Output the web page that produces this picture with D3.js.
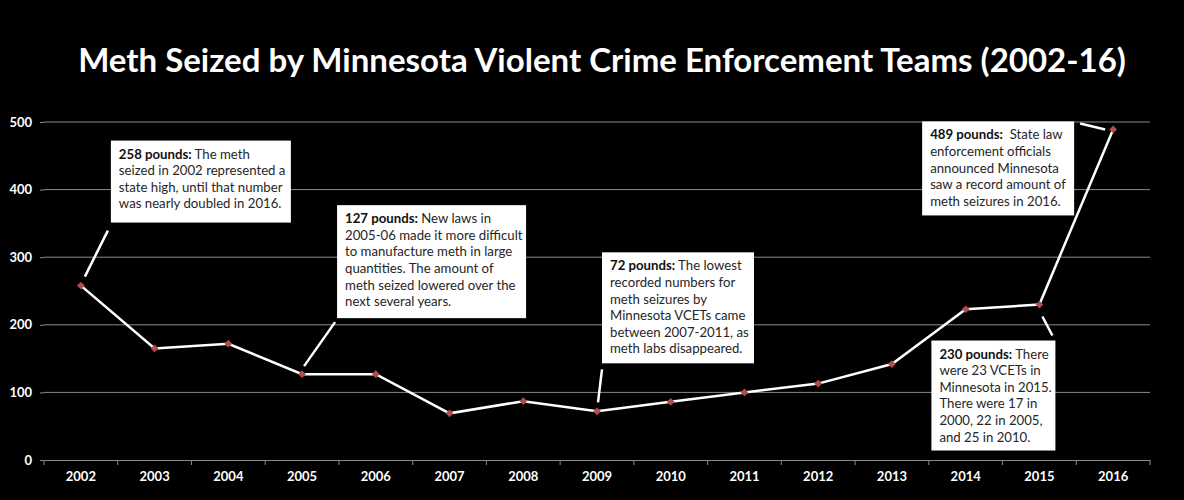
<!DOCTYPE html>
<html>
<head>
<meta charset="utf-8">
<script src="https://cdn.jsdelivr.net/npm/d3@7"></script>
<style>
  body { margin: 0; background: #000; }
  svg { display: block; }
  text { font-family: Lato, "Open Sans", sans-serif; }
</style>
</head>
<body>
<div id="chart"></div>
<script>
/**
 * DATA
 * */
const years = ["2002", "2003", "2004", "2005", "2006", "2007", "2008", "2009",
  "2010", "2011", "2012", "2013", "2014", "2015", "2016"];
const pounds = [258, 165, 172, 127, 127, 69, 87, 72, 86, 100, 113, 142, 223, 230, 489];
const yTicks = [0, 100, 200, 300, 400, 500];

// annotation notes: which year they point at, bold lead and the rest of lines
const noteYears = ["2002", "2005", "2009", "2016", "2015"];
const noteLeads = ["258 pounds:", "127 pounds:", "72 pounds:", "489 pounds:", "230 pounds:"];
const noteLines = [
  [" The meth", "seized in 2002 represented a", "state high, until that number", "was nearly doubled in 2016."],
  [" New laws in", "2005-06 made it more difficult", "to manufacture meth in large", "quantities. The amount of", "meth seized lowered over the", "next several years."],
  [" The lowest", "recorded numbers for", "meth seizures by", "Minnesota VCETs came", "between 2007-2011, as", "meth labs disappeared."],
  ["  State law", "enforcement officials", "announced Minnesota", "saw a record amount of", "meth seizures in 2016."],
  [" There", "were 23 VCETs in", "Minnesota in 2015.", "There were 17 in", "2000, 22 in 2005,", "and 25 in 2010."]
];

/**
 * LAYOUT
 * */
const width = 1184, height = 500;
const margin = { top: 122, bottom: 40, left: 44, right: 34 };

// box placement relative to the point it annotates: dx, dy of box top-left, box w/h,
// leader start (relative to point) and leader end offset
const boxes = [
  { dx: 30, dy: -145, w: 180, h: 82, l1: [27, -55], l2: [4, -9] },
  { dx: 35, dy: -169, w: 189, h: 113, l1: [33, -52], l2: [2, -8] },
  { dx: 5, dy: -159, w: 152, h: 111, l1: [5, -42], l2: [1, -9] },
  { dx: -191, dy: -8, w: 152, h: 94, l1: [-33, -6], l2: [-8, 0] },
  { dx: -108, dy: 36, w: 124, h: 110, l1: [3, 12], l2: [13, 31] }
];

const svg = d3.select("#chart")
  .append("svg")
  .attr("width", width)
  .attr("height", height)
  .style("background", "#000");

const x = d3.scaleBand()
  .domain(years)
  .range([margin.left, width - margin.right])
  .padding(0);

const y = d3.scaleLinear()
  .domain([0, 500])
  .range([height - margin.bottom, margin.top]);

const cx = d => x(d) + x.bandwidth() / 2;

// title
svg.append("text")
  .attr("x", 602)
  .attr("y", 72)
  .attr("text-anchor", "middle")
  .attr("fill", "#fff")
  .attr("font-size", 33)
  .attr("font-weight", "bold")
  .text("Meth Seized by Minnesota Violent Crime Enforcement Teams (2002-16)");

// gridlines
svg.append("g")
  .selectAll("line")
  .data(yTicks.filter(d => d > 0))
  .join("line")
  .attr("x1", margin.left)
  .attr("x2", width - margin.right)
  .attr("y1", d => y(d))
  .attr("y2", d => y(d))
  .attr("stroke", "#8a8a8a")
  .attr("stroke-width", 1);

// x axis
const xAxis = svg.append("g")
  .attr("transform", `translate(0,${y(0)})`)
  .call(d3.axisBottom(x).tickSize(0).tickPadding(12));
xAxis.select(".domain").attr("stroke", "#8a8a8a");
xAxis.selectAll("text")
  .attr("fill", "#fff")
  .attr("font-size", 13)
  .attr("font-weight", "bold")
  .attr("font-family", "Lato, sans-serif");

// x tick marks at band edges
svg.append("g")
  .selectAll("line")
  .data(years.concat(["end"]))
  .join("line")
  .attr("x1", (d, i) => margin.left + i * x.bandwidth())
  .attr("x2", (d, i) => margin.left + i * x.bandwidth())
  .attr("y1", y(0))
  .attr("y2", y(0) + 5)
  .attr("stroke", "#8a8a8a");

// y axis labels
const yAxis = svg.append("g")
  .attr("transform", `translate(${margin.left},0)`)
  .call(d3.axisLeft(y).tickValues(yTicks).tickSize(4).tickPadding(8));
yAxis.select(".domain").remove();
yAxis.selectAll("line").attr("stroke", "#8a8a8a");
yAxis.selectAll("text")
  .attr("fill", "#fff")
  .attr("font-size", 13)
  .attr("font-weight", "bold")
  .attr("font-family", "Lato, sans-serif");

// line
const line = d3.line()
  .x((d, i) => cx(years[i]))
  .y(d => y(d));

svg.append("path")
  .datum(pounds)
  .attr("d", line)
  .attr("fill", "none")
  .attr("stroke", "#fff")
  .attr("stroke-width", 2.5);

// markers
svg.append("g")
  .selectAll("path")
  .data(pounds)
  .join("path")
  .attr("d", d3.symbol(d3.symbolSquare, 30))
  .attr("transform", (d, i) => `translate(${cx(years[i])},${y(d)}) rotate(45)`)
  .attr("fill", "#b34c4c");

// annotations
noteYears.forEach((yr, k) => {
  const i = years.indexOf(yr);
  const px = cx(yr), py = y(pounds[i]);
  const b = boxes[k];
  const g = svg.append("g");

  g.append("line")
    .attr("x1", px + b.l1[0]).attr("y1", py + b.l1[1])
    .attr("x2", px + b.l2[0]).attr("y2", py + b.l2[1])
    .attr("stroke", "#fff")
    .attr("stroke-width", 2.5);

  g.append("rect")
    .attr("x", px + b.dx)
    .attr("y", py + b.dy)
    .attr("width", b.w)
    .attr("height", b.h)
    .attr("fill", "#fff");

  const t = g.append("text")
    .attr("x", px + b.dx + 8)
    .attr("y", py + b.dy + 18)
    .attr("fill", "#262626")
    .attr("font-size", 13.2);

  noteLines[k].forEach((ln, j) => {
    if (j === 0) {
      t.append("tspan")
        .attr("x", px + b.dx + 8)
        .attr("font-weight", "bold")
        .attr("fill", "#111")
        .text(noteLeads[k]);
      t.append("tspan")
        .style("white-space", "pre")
        .text(ln);
    } else {
      t.append("tspan")
        .attr("x", px + b.dx + 8)
        .attr("dy", 16.6)
        .text(ln);
    }
  });
});
</script>
</body>
</html>
